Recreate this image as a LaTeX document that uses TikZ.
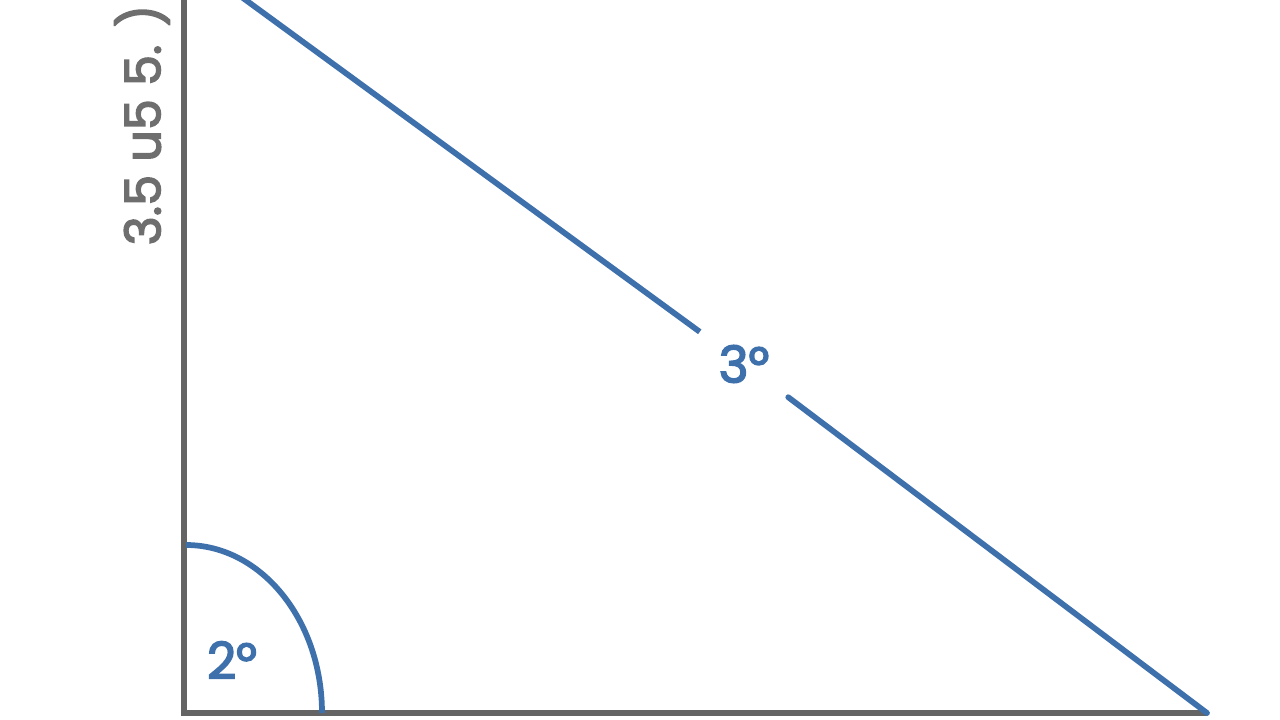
\documentclass[tikz,border=0pt]{standalone}
\usepackage{fontspec}
\setmainfont{Poppins}
\newfontfamily\medfont{Poppins}[FakeBold=3]
\definecolor{legGray}{RGB}{100,100,100}
\definecolor{textGray}{RGB}{110,110,110}
\definecolor{angBlue}{RGB}{62,112,172}
\tikzset{
	leg/.style={draw=legGray, line width=4.1pt},
	hyp/.style={draw=angBlue, line width=4.3pt},
	anglab/.style={text=angBlue, font=\fontsize{38}{42}\medfont},
}
\begin{document}
\begin{tikzpicture}[x=0.75pt, y=-0.75pt]
		\useasboundingbox (0,0) rectangle (1280,720);

		\coordinate (top) at (184,-10);
		\coordinate (right) at (184,713);
		\coordinate (far) at (1207,713);
		\coordinate (hyptop) at (232,-10);

		\draw[leg] (top) -- (right) -- (far);

		\node[anglab, inner sep=14pt] (third) at (744,364) {3°};
			\draw[hyp] (hyptop) -- (third);
			\draw[hyp, line cap=round] (third) -- (far);

		\draw[hyp] (186,545) arc[start angle=-90, end angle=0, x radius=136, y radius=168];
		\node[anglab] (second) at (232,660) {2°};

		\node[text=textGray, rotate=90, font=\fontsize{37}{40}\medfont] (side) at (142,125) {3.5 u5 5. )};
	\end{tikzpicture}
\end{document}
